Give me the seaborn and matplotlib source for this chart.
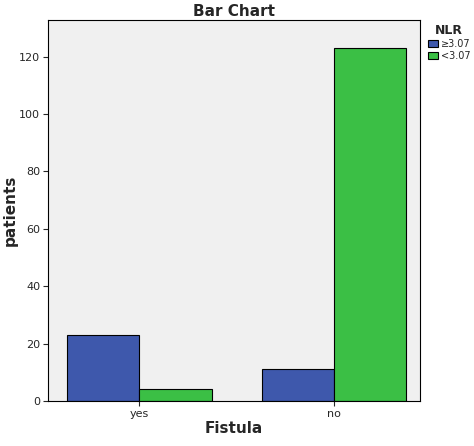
import matplotlib
matplotlib.use("Agg")
import matplotlib.pyplot as plt
import pandas as pd
import seaborn as sns

fistula = ["yes", "yes", "no", "no"]
nlr = ["≥3.07", "<3.07", "≥3.07", "<3.07"]
patients = [23, 4, 11, 123]

df = pd.DataFrame({"Fistula": fistula, "NLR": nlr, "patients": patients})

sns.set_style("ticks")
plt.rcParams["font.family"] = ["DejaVu Sans"]
fig = plt.figure(figsize=(4.74, 4.46), dpi=100)
ax = fig.add_axes([0.101, 0.101, 0.785, 0.854])
ax.set_facecolor("#f0f0f0")
sns.barplot(data=df, x="Fistula", y="patients", hue="NLR", ax=ax, width=0.74,
            palette={"≥3.07": "#3e58ac", "<3.07": "#3bbf45"},
            edgecolor="black", linewidth=0.8, saturation=1, legend=True)
ax.set_xlim(-0.47, 1.44)
ax.set_ylim(0, 132.7)
ax.set_yticks([0, 20, 40, 60, 80, 100, 120])
ax.tick_params(labelsize=8, pad=2)
ax.set_xlabel("Fistula", fontsize=11, fontweight="bold", labelpad=2)
ax.set_ylabel("patients", fontsize=11, fontweight="bold", labelpad=1)
ax.set_title("Bar Chart", fontsize=11, fontweight="bold", pad=3)
for s in ax.spines.values():
    s.set_color("black")
    s.set_linewidth(0.8)
h, l = ax.get_legend_handles_labels()
ax.get_legend().remove()
leg = fig.legend(h, l, title="NLR", loc="upper left", bbox_to_anchor=(0.895, 0.955),
                 frameon=False, fontsize=7, handlelength=1, handleheight=0.8,
                 borderaxespad=0, labelspacing=0.2, handletextpad=0.3)
leg.get_title().set_fontweight("bold")
leg.get_title().set_fontsize(9)
fig.savefig("out.png", dpi=100)
